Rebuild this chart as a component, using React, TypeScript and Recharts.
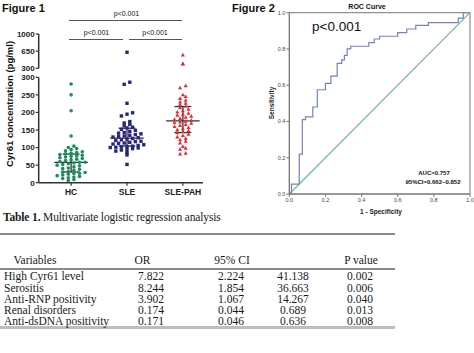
import {
  ScatterChart, Scatter, XAxis, YAxis, ReferenceLine, LineChart, Line, ReferenceArea,
} from 'recharts'

const SANS = '"Liberation Sans", Arial, sans-serif'
const SERIF = '"Liberation Serif", "Times New Roman", serif'

// Figure 1 — Cyr61 per group (pg/ml)
const groups = ['HC', 'SLE', 'SLE-PAH']
const hcValues = [
  6, 9, 12, 14, 16, 18, 20, 22, 24, 26, 27, 29, 30, 32, 35, 38, 40, 42, 45, 48,
  50, 52, 54, 56, 58, 58, 60, 63, 65, 67, 69, 71, 73, 75, 77, 78, 80, 82, 84, 86,
  88, 91, 94, 97, 100, 104, 133, 205, 250, 281,
]
const sleValues = [
  52, 79, 86, 90, 93, 95, 97, 99, 100, 101, 102, 103, 104, 106, 108, 110, 112, 113, 115, 117,
  118, 120, 122, 124, 126, 128, 130, 131, 133, 135, 137, 139, 141, 143, 146, 149, 152, 156, 158, 162,
  166, 170, 174, 190, 195, 199, 226, 280, 286, 627,
]
const pahValues = [
  82, 84, 95, 98, 103, 113, 118, 122, 126, 130, 134, 138, 142, 145, 148, 151, 154, 157, 160, 163,
  166, 169, 171, 173, 175, 177, 180, 183, 186, 189, 192, 195, 198, 201, 205, 209, 213, 218, 222, 226,
  230, 235, 240, 245, 250, 270, 276, 388, 395, 571,
]
const groupColors = ['#1b8f5b', '#262680', '#e62a34']
const groupShapes = ['circle', 'square', 'triangle']
const lowerTicks = [0, 50, 100, 150, 200, 250, 300]
const upperTicks = [300, 650, 1000]
const breakAt = 300

// Figure 2 — ROC curve corners (stepAfter)
const rocFpr = [0, 0.012, 0.055, 0.072, 0.09, 0.13, 0.155, 0.2, 0.23, 0.265, 0.29, 0.305, 0.32, 0.34, 0.44, 0.47, 0.5, 0.6, 0.65, 0.7, 0.77, 0.935, 0.963, 1]
const rocTpr = [0, 0.055, 0.22, 0.41, 0.425, 0.48, 0.575, 0.61, 0.65, 0.72, 0.74, 0.765, 0.8, 0.815, 0.835, 0.855, 0.87, 0.89, 0.91, 0.93, 0.945, 0.97, 1, 1]
const diagonal = [0, 1]
const rocTicks = [0, 0.2, 0.4, 0.6, 0.8, 1]

// Table 1
const variables = ['High Cyr61 level', 'Serositis', 'Anti-RNP positivity', 'Renal disorders', 'Anti-dsDNA positivity']
const orValues = ['7.822', '8.244', '3.902', '0.174', '0.171']
const ciLow = ['2.224', '1.854', '1.067', '0.044', '0.046']
const ciHigh = ['41.138', '36.663', '14.267', '0.689', '0.636']
const pValues = ['0.002', '0.006', '0.040', '0.013', '0.008']

type Pt = { x: number; y: number }

// spread points sideways within value bins so they sit in rows
function swarm(vals: number[], center: number): Pt[] {
  const bins = new Map<number, number[]>()
  vals.forEach(v => {
    const k = Math.floor(v / 10)
    if (!bins.has(k)) bins.set(k, [])
    bins.get(k)!.push(v)
  })
  const out: Pt[] = []
  bins.forEach(list => {
    list.forEach((v, i) => out.push({ x: center + (i - (list.length - 1) / 2) * 0.1, y: v }))
  })
  return out
}

function quant(vals: number[], p: number) {
  const s = [...vals].sort((a, b) => a - b)
  const idx = p * (s.length - 1)
  const lo = Math.floor(idx)
  const hi = Math.ceil(idx)
  return s[lo] + (s[hi] - s[lo]) * (idx - lo)
}

const allGroups = [hcValues, sleValues, pahValues]
const swarms = allGroups.map((vals, i) => swarm(vals, i + 1))

function dotShape(kind: string, color: string) {
  return (p: any) => {
    const { cx, cy } = p
    if (kind === 'square') return <rect x={cx - 1.7} y={cy - 1.7} width={3.4} height={3.4} fill={color} />
    if (kind === 'triangle')
      return <polygon points={`${cx},${cy - 2.2} ${cx - 2},${cy + 1.5} ${cx + 2},${cy + 1.5}`} fill={color} />
    return <circle cx={cx} cy={cy} r={1.8} fill={color} />
  }
}

const xDomain: [number, number] = [0.42, 3.36]
const axisTick = { fontSize: 8, fontWeight: 700, fill: '#222', fontFamily: SANS }

function Txt({ x, y, size, children, bold, align = 'center', family = SANS, color = '#111', w = 200 }: any) {
  const left = align === 'center' ? x - w / 2 : x
  return (
    <div style={{
      position: 'absolute', left, top: y - size / 2, width: w, height: size, lineHeight: `${size}px`,
      fontSize: size, fontWeight: bold ? 700 : 400, fontFamily: family, color, textAlign: align, whiteSpace: 'nowrap',
    }}>{children}</div>
  )
}

function HLine({ x1, x2, y, color = '#555', t = 1.5 }: any) {
  return <div style={{ position: 'absolute', left: x1, top: y - t / 2, width: x2 - x1, height: t, background: color }} />
}

function Figure1() {
  const stats = allGroups.map(v => ({ q1: quant(v, 0.25), med: quant(v, 0.5), q3: quant(v, 0.75) }))
  return (
    <>
      <Txt x={2} y={8} size={11} bold align="left">Figure 1</Txt>
      {/* significance brackets */}
      <HLine x1={69} x2={182} y={20.7} />
      <HLine x1={69} x2={123} y={39.3} />
      <HLine x1={129} x2={182} y={39.3} />
      <Txt x={126.5} y={13.5} size={7}>p&lt;0.001</Txt>
      <Txt x={96.5} y={32.5} size={7}>p&lt;0.001</Txt>
      <Txt x={155} y={32.5} size={7}>p&lt;0.001</Txt>
      <div style={{
        position: 'absolute', left: 9, top: 104, transform: 'translate(-50%, -50%) rotate(-90deg)',
        fontSize: 9.5, fontWeight: 700, fontFamily: SANS, whiteSpace: 'nowrap', color: '#111',
      }}>Cyr61 concentration (pg/ml)</div>

      {/* upper segment of broken axis */}
      <div style={{ position: 'absolute', left: 0, top: 28 }}>
        <ScatterChart width={215} height={45} margin={{ top: 6, right: 12, bottom: 4.7, left: 12.7 }}>
          <XAxis type="number" dataKey="x" domain={xDomain} hide />
          <YAxis type="number" dataKey="y" domain={[breakAt, 1000]} ticks={upperTicks} width={26}
            tick={axisTick} tickSize={3} tickMargin={1} axisLine={{ stroke: '#333', strokeWidth: 1.5 }}
            tickLine={{ stroke: '#333', strokeWidth: 1.2 }} interval={0} />
          {swarms.map((pts, i) => (
            <Scatter key={i} data={pts.filter(p => p.y > breakAt)} shape={dotShape(groupShapes[i], groupColors[i])}
              isAnimationActive={false} />
          ))}
        </ScatterChart>
      </div>

      {/* lower segment */}
      <div style={{ position: 'absolute', left: 0, top: 70 }}>
        <ScatterChart width={215} height={130} margin={{ top: 7.3, right: 12, bottom: 0, left: 12.7 }}>
          <XAxis type="number" dataKey="x" domain={xDomain} ticks={[1, 2, 3]} height={17.3}
            tickFormatter={(v: number) => groups[v - 1]} tick={{ ...axisTick, fontSize: 8.5 }}
            tickSize={3} tickMargin={3} axisLine={{ stroke: '#333', strokeWidth: 1.5 }}
            tickLine={{ stroke: '#333', strokeWidth: 1.2 }} interval={0} />
          <YAxis type="number" dataKey="y" domain={[0, breakAt]} ticks={lowerTicks} width={26}
            tick={axisTick} tickSize={3} tickMargin={1} axisLine={{ stroke: '#333', strokeWidth: 1.5 }}
            tickLine={{ stroke: '#333', strokeWidth: 1.2 }} interval={0} />
          {swarms.map((pts, i) => (
            <Scatter key={i} data={pts.filter(p => p.y <= breakAt)} shape={dotShape(groupShapes[i], groupColors[i])}
              isAnimationActive={false} />
          ))}
          {stats.map((s, i) => [
            <ReferenceLine key={`m${i}`} segment={[{ x: i + 1 - 0.3, y: s.med }, { x: i + 1 + 0.3, y: s.med }]}
              stroke="#333" strokeWidth={1.3} />,
            <ReferenceLine key={`a${i}`} segment={[{ x: i + 1 - 0.15, y: s.q1 }, { x: i + 1 + 0.15, y: s.q1 }]}
              stroke="#333" strokeWidth={1.3} />,
            <ReferenceLine key={`b${i}`} segment={[{ x: i + 1 - 0.15, y: s.q3 }, { x: i + 1 + 0.15, y: s.q3 }]}
              stroke="#333" strokeWidth={1.3} />,
            <ReferenceLine key={`v${i}`} segment={[{ x: i + 1, y: s.q1 }, { x: i + 1, y: s.q3 }]}
              stroke="#333" strokeWidth={1.3} />,
          ])}
        </ScatterChart>
      </div>
    </>
  )
}

function Figure2() {
  const roc = rocFpr.map((x, i) => ({ x, y: rocTpr[i] }))
  const diag = diagonal.map(v => ({ x: v, y: v }))
  const tick = { fontSize: 5.5, fill: '#444', fontFamily: SANS }
  return (
    <>
      <Txt x={232} y={8} size={11} bold align="left">Figure 2</Txt>
      <Txt x={367} y={6} size={7} bold>ROC Curve</Txt>
      <div style={{ position: 'absolute', left: 240, top: 0 }}>
        <LineChart width={234} height={215} margin={{ top: 12.7, right: 4, bottom: 11, left: 35.3 }}>
          <XAxis type="number" dataKey="x" domain={[0, 1]} ticks={rocTicks} height={10} tick={tick}
            tickFormatter={(v: number) => v.toFixed(1)} tickSize={3} tickMargin={1}
            axisLine={{ stroke: '#777' }} tickLine={{ stroke: '#777' }} interval={0} />
          <YAxis type="number" dataKey="y" domain={[0, 1]} ticks={rocTicks} width={14} tick={tick}
            tickFormatter={(v: number) => v.toFixed(1)} tickSize={3} tickMargin={1}
            axisLine={{ stroke: '#777' }} tickLine={{ stroke: '#777' }} interval={0} />
          <ReferenceArea x1={0} x2={1} y1={0} y2={1} fill="none" stroke="#777" strokeWidth={1} />
          <Line data={diag} dataKey="y" type="linear" stroke="#6fbf84" strokeWidth={1.2} dot={false}
            isAnimationActive={false} />
          <Line data={roc} dataKey="y" type="stepAfter" stroke="#7482c2" strokeWidth={1.2} dot={false}
            isAnimationActive={false} />
        </LineChart>
      </div>
      <Txt x={312} y={27} size={13.5} align="left">p&lt;0.001</Txt>
      <Txt x={434} y={173} size={6} bold>AUC=0.757</Txt>
      <Txt x={433} y={181.5} size={6} bold>95%CI=0.662~0.852</Txt>
      <div style={{
        position: 'absolute', left: 271, top: 103, transform: 'translate(-50%, -50%) rotate(-90deg)',
        fontSize: 6.5, fontWeight: 700, fontFamily: SANS, whiteSpace: 'nowrap', color: '#222',
      }}>Sensitivity</div>
      <Txt x={381} y={212} size={6.5} bold color="#222">1 - Specificity</Txt>
    </>
  )
}

function Table1() {
  const rowY = [277, 288.3, 299.6, 310.9, 322.2]
  const cell = (x: number, y: number, text: string, align = 'center') => (
    <Txt key={`${x}-${y}`} x={x} y={y} size={11.5} family={SERIF} color="#1a1a1a" align={align} w={100}>{text}</Txt>
  )
  return (
    <>
      <div style={{
        position: 'absolute', left: 3, top: 211, fontSize: 11.5, fontFamily: SERIF, color: '#1a1a1a',
        whiteSpace: 'nowrap', lineHeight: '12px', letterSpacing: -0.15,
      }}><b>Table 1.</b> Multivariate logistic regression analysis</div>
      <HLine x1={0} x2={395} y={233.5} color="#8a8a8a" t={2} />
      <HLine x1={0} x2={395} y={268.5} color="#8a8a8a" t={2} />
      <HLine x1={0} x2={395} y={327.5} color="#bdbdbd" t={2.5} />
      {cell(35, 261, 'Variables')}
      {cell(142.5, 261, 'OR')}
      {cell(232, 261, '95% CI')}
      {cell(361, 261, 'P value')}
      {variables.map((v, i) => cell(4, rowY[i], v, 'left'))}
      {orValues.map((v, i) => cell(151, rowY[i], v))}
      {ciLow.map((v, i) => cell(231, rowY[i], v))}
      {ciHigh.map((v, i) => cell(293, rowY[i], v))}
      {pValues.map((v, i) => cell(360, rowY[i], v))}
    </>
  )
}

export default function App() {
  return (
    <div style={{ position: 'absolute', left: 0, top: 0, width: 474, height: 353, background: '#fff', overflow: 'hidden' }}>
      <Figure1 />
      <Figure2 />
      <Table1 />
    </div>
  )
}
